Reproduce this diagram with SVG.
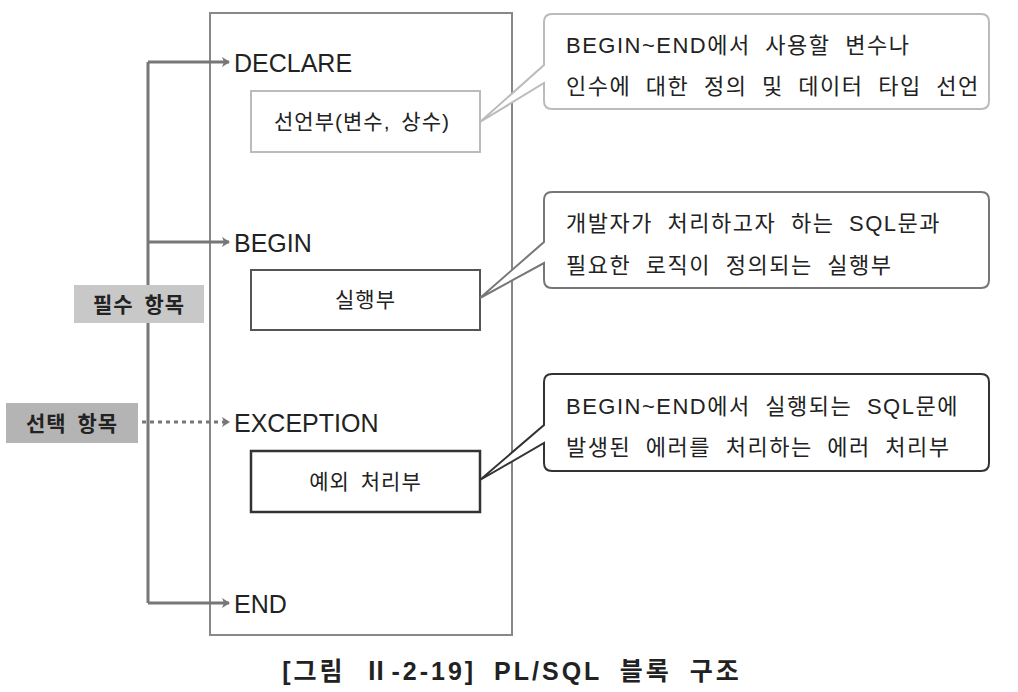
<svg xmlns="http://www.w3.org/2000/svg" width="1018" height="692" viewBox="0 0 1018 692">
<style>
text{font-family:"Liberation Sans","Noto Sans CJK KR",sans-serif;fill:#222}
.kw{font-size:25px}
.ko{font-size:21px;letter-spacing:1px;word-spacing:4px}
.nt{font-size:22px;letter-spacing:1.5px;word-spacing:7px}
.cl{fill:#fff;stroke-width:2}
.ln{stroke:#777;stroke-width:3;fill:none}
</style>
<defs>
<marker id="ah" markerWidth="10" markerHeight="10" refX="8" refY="5" orient="auto" markerUnits="userSpaceOnUse">
<path d="M1,0 L9,5 L1,10 L3,5 Z" fill="#777"/>
</marker>
</defs>
<rect width="1018" height="692" fill="#fff"/>
<g id="block"><rect x="210" y="13" width="302" height="622" fill="#fff" stroke="#888" stroke-width="2"/></g>
<g id="connectors">
<path class="ln" d="M148,62 V603"/>
<path class="ln" d="M148,62 H229" marker-end="url(#ah)"/>
<path class="ln" d="M148,242 H229" marker-end="url(#ah)"/>
<path class="ln" d="M148,603 H229" marker-end="url(#ah)"/>
<path class="ln" d="M142,422 H229" stroke-dasharray="4,4" marker-end="url(#ah)"/>
</g>
<g id="declare"><text class="kw" x="234" y="72">DECLARE</text></g>
<g id="begin"><text class="kw" x="234" y="252">BEGIN</text></g>
<g id="exception"><text class="kw" x="234" y="432">EXCEPTION</text></g>
<g id="end"><text class="kw" x="234" y="613">END</text></g>
<g id="decl-part"><rect x="251" y="91" width="229" height="61" fill="#fff" stroke="#bbb" stroke-width="2"/><text class="ko" x="362" y="129" text-anchor="middle">선언부(변수, 상수)</text></g>
<g id="exec-part"><rect x="251" y="270" width="229" height="60" fill="#fff" stroke="#555" stroke-width="2"/><text class="ko" x="365.5" y="307" text-anchor="middle">실행부</text></g>
<g id="exc-part"><rect x="251" y="451" width="229" height="61" fill="#fff" stroke="#333" stroke-width="2.5"/><text class="ko" x="365.5" y="489" text-anchor="middle">예외 처리부</text></g>
<g id="required"><rect x="74" y="285" width="130" height="38" fill="#c8c8c8"/><text class="ko" x="139" y="312" text-anchor="middle" font-weight="bold" font-size="22">필수 항목</text></g>
<g id="optional"><rect x="6" y="403" width="132" height="40" fill="#b4b4b4"/><text class="ko" x="72" y="431" text-anchor="middle" font-weight="bold" font-size="22">선택 항목</text></g>
<g id="note1"><path class="cl" stroke="#bbb" d="M552,14 H981 Q989,14 989,22 V101 Q989,109 981,109 H552 Q544,109 544,101 V83 L480,122 L544,65 V22 Q544,14 552,14 Z"/>
<text class="nt" x="566" y="53">BEGIN~END에서 사용할 변수나</text><text class="nt" x="566" y="94">인수에 대한 정의 및 데이터 타입 선언</text></g>
<g id="note2"><path class="cl" stroke="#777" d="M552,192 H981 Q989,192 989,200 V280 Q989,288 981,288 H552 Q544,288 544,280 V263 L480,298 L544,242 V200 Q544,192 552,192 Z"/>
<text class="nt" x="566" y="231">개발자가 처리하고자 하는 SQL문과</text><text class="nt" x="566" y="273">필요한 로직이 정의되는 실행부</text></g>
<g id="note3"><path class="cl" stroke="#333" d="M552,374 H981 Q989,374 989,382 V463 Q989,471 981,471 H552 Q544,471 544,463 V443 L480,480 L544,425 V382 Q544,374 552,374 Z"/>
<text class="nt" x="566" y="414">BEGIN~END에서 실행되는 SQL문에</text><text class="nt" x="566" y="455">발생된 에러를 처리하는 에러 처리부</text></g>
<text x="512" y="680" text-anchor="middle" font-size="25" font-weight="bold" letter-spacing="3" word-spacing="8">[그림 Ⅱ-2-19] PL/SQL 블록 구조</text>
</svg>
